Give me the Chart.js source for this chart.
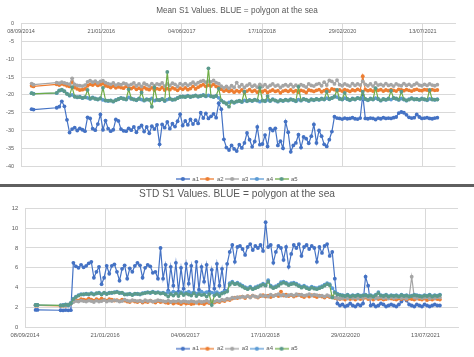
<!DOCTYPE html>
<html><head><meta charset="utf-8">
<script src="https://cdn.jsdelivr.net/npm/chart.js@4.4.1/dist/chart.umd.min.js"></script>
<style>
html,body{margin:0;padding:0;background:#fff;}
body{width:474px;height:357px;overflow:hidden;}
canvas{display:block;}
#sep{height:3px;background:#5f5f5f;}
</style></head><body>
<canvas id="c1" width="474" height="184"></canvas>
<div id="sep"></div>
<canvas id="c2" width="474" height="170"></canvas>
<script>
// acquisition dates, in days after 08/09/2014
const acqDays = [66,78,222,238,254,270,286,302,318,334,350,366,382,398,414,430,446,462,478,494,510,526,542,558,574,590,606,622,638,654,670,686,702,718,734,750,766,782,798,814,830,846,862,878,894,910,926,942,958,974,990,1006,1022,1038,1054,1070,1086,1102,1118,1134,1150,1166,1182,1198,1214,1230,1246,1262,1278,1294,1310,1326,1342,1358,1374,1390,1406,1422,1438,1454,1470,1486,1502,1518,1534,1550,1566,1582,1598,1614,1630,1646,1662,1678,1694,1710,1726,1742,1758,1774,1790,1806,1822,1838,1854,1870,1886,1902,1918,1934,1950,1966,1982,1998,2014,2030,2046,2062,2078,2094,2110,2126,2142,2158,2174,2190,2206,2222,2238,2254,2270,2286,2302,2318,2334,2350,2366,2382,2398,2414,2430,2446,2462,2478,2494,2510,2526,2542,2558,2574,2590];

const xTickDays = [0, 500, 1000, 1500, 2000, 2500];
const xTickLabels = ['08/09/2014','21/01/2016','04/06/2017','17/10/2018','29/02/2020','13/07/2021'];
const seriesNames = ['a1','a2','a3','a4','a5'];

const meanA1 = [-24.0,-24.1,
-23.6,-23.3,-21.8,-23.2,-27.0,-30.6,-29.6,-29.2,-30.0,-29.4,
-29.8,-30.2,-26.3,-26.6,-29.5,-29.9,-28.2,-25.5,-29.8,-27.2,
-29.5,-30.2,-29.8,-26.9,-27.3,-29.6,-30.1,-30.2,-29.4,-29.9,
-29.0,-30.5,-29.2,-28.6,-30.3,-29.0,-30.8,-28.8,-29.6,-28.4,
-33.9,-28.3,-29.2,-27.6,-29.5,-28.1,-28.9,-27.4,-25.4,-28.6,
-27.3,-28.4,-26.9,-28.2,-27.1,-28.0,-25.0,-26.5,-25.2,-26.6,
-26.0,-25.3,-26.4,-22.3,-24.0,-32.5,-34.8,-35.5,-34.2,-35.2,
-35.8,-34.0,-34.9,-33.5,-30.7,-32.6,-34.6,-33.1,-29.0,-34.0,
-33.8,-31.3,-34.5,-29.5,-30.0,-29.4,-34.2,-33.0,-35.0,-27.5,
-30.5,-36.0,-34.2,-33.5,-31.2,-34.8,-31.8,-32.3,-33.6,-31.6,
-28.3,-33.5,-30.0,-31.6,-33.9,-34.5,-32.6,-30.3,-26.1,-26.5,
-26.6,-26.8,-26.5,-26.7,-26.6,-26.4,-26.7,-26.8,-26.5,-20.0,
-26.6,-26.7,-26.5,-26.6,-26.9,-26.5,-26.7,-26.4,-26.6,-26.5,
-26.6,-26.4,-26.2,-25.1,-24.8,-25.0,-25.6,-26.3,-26.5,-26.4,
-25.5,-26.2,-26.6,-26.5,-26.4,-26.6,-26.7,-26.5,-26.4];

const meanA2 = [-17.4,-17.6,
-17.0,-17.2,-16.9,-17.1,-17.4,-17.6,-16.3,-17.9,-18.3,-18.6,
-18.5,-18.3,-17.4,-17.0,-17.2,-16.9,-17.3,-17.1,-16.8,-17.4,
-17.6,-17.9,-17.5,-18.0,-17.7,-17.9,-18.1,-17.6,-17.9,-18.2,
-17.8,-18.4,-18.1,-18.6,-17.9,-18.3,-18.5,-18.0,-18.6,-18.2,
-18.4,-17.9,-18.6,-18.2,-18.5,-18.0,-18.3,-18.7,-18.1,-18.4,
-18.0,-18.5,-18.2,-17.6,-18.3,-17.8,-17.4,-17.1,-17.6,-17.2,
-17.5,-17.0,-17.6,-17.8,-18.4,-18.9,-18.6,-19.0,-18.7,-19.2,
-18.8,-19.1,-18.6,-19.3,-18.9,-18.5,-19.0,-18.7,-19.2,-18.8,
-19.1,-18.7,-19.3,-18.9,-18.6,-19.0,-18.8,-19.4,-18.9,-18.7,
-19.0,-18.6,-19.1,-18.8,-19.2,-18.7,-18.9,-19.3,-18.6,-18.8,
-19.0,-18.7,-18.5,-19.1,-18.8,-18.4,-18.9,-18.3,-18.5,-18.8,
-18.6,-18.9,-18.5,-18.7,-19.0,-18.6,-18.8,-18.4,-18.7,-14.7,
-18.5,-18.8,-18.6,-18.9,-18.4,-18.7,-18.5,-18.9,-18.6,-18.8,
-18.5,-18.7,-18.9,-18.4,-18.6,-18.8,-18.5,-18.7,-18.9,-18.6,
-18.4,-18.7,-18.8,-18.5,-18.6,-18.9,-18.5,-18.7,-18.6];

const meanA3 = [-16.8,-17.1,
-16.5,-16.7,-16.4,-16.6,-16.8,-17.0,-15.3,-17.0,-17.3,-17.4,
-17.5,-17.2,-16.3,-16.0,-16.4,-16.1,-16.6,-16.2,-16.0,-16.5,
-16.8,-17.0,-16.6,-17.2,-16.9,-17.1,-16.7,-16.9,-17.3,-17.0,
-16.6,-17.4,-16.9,-17.6,-16.7,-17.1,-17.5,-16.8,-17.4,-16.9,
-17.1,-16.6,-17.5,-16.9,-17.3,-16.7,-17.0,-17.6,-16.8,-17.2,
-16.8,-17.3,-16.9,-16.4,-17.0,-16.5,-16.2,-16.0,-16.4,-16.1,
-16.3,-15.9,-16.5,-16.8,-17.5,-18.0,-17.6,-18.1,-17.4,-17.9,
-16.5,-17.7,-17.1,-17.9,-17.3,-16.9,-17.6,-17.2,-17.8,-17.0,
-17.6,-17.1,-17.8,-17.3,-16.9,-17.5,-17.2,-17.9,-17.4,-17.1,
-17.5,-17.0,-17.7,-17.2,-17.6,-17.1,-17.4,-17.8,-16.9,-17.3,
-17.5,-17.0,-16.8,-17.4,-16.4,-17.2,-15.9,-16.2,-16.9,-15.8,
-17.1,-17.4,-16.9,-17.2,-17.5,-16.8,-17.3,-16.9,-17.2,-16.2,
-17.0,-17.4,-16.9,-17.5,-16.6,-17.2,-17.0,-17.4,-16.8,-17.3,
-17.1,-17.5,-16.9,-17.2,-17.4,-16.8,-17.3,-17.0,-17.5,-17.1,
-16.7,-17.2,-17.4,-17.0,-17.3,-16.9,-17.2,-17.4,-17.1];

const meanA4 = [-19.5,-19.6,
-19.5,-18.7,-18.6,-18.9,-19.6,-20.2,-20.0,-20.4,-20.7,-20.5,
-20.9,-20.6,-20.8,-21.1,-20.7,-21.0,-21.3,-20.9,-21.4,-21.6,
-21.7,-21.5,-21.9,-21.4,-21.2,-20.8,-21.0,-21.3,-20.7,-21.1,
-21.2,-21.5,-21.0,-21.3,-21.6,-21.2,-21.4,-21.0,-21.6,-21.3,
-21.5,-21.1,-21.7,-21.3,-21.0,-21.4,-21.2,-20.8,-20.6,-20.4,
-20.5,-20.2,-20.6,-20.3,-20.1,-20.5,-20.2,-20.0,-20.4,-20.1,
-20.3,-20.6,-20.2,-20.8,-21.6,-22.0,-22.5,-22.1,-21.8,-22.2,
-21.9,-21.6,-22.0,-21.5,-21.8,-21.4,-21.7,-21.3,-21.6,-21.9,
-21.5,-21.8,-21.4,-21.7,-21.2,-21.6,-21.9,-21.4,-21.7,-21.3,
-21.6,-21.2,-21.5,-21.8,-21.3,-21.6,-21.1,-21.4,-21.7,-21.2,
-21.5,-21.1,-21.4,-21.0,-21.3,-20.9,-21.2,-20.8,-20.4,-20.6,
-21.0,-21.3,-20.9,-21.2,-21.5,-21.0,-21.3,-20.8,-21.1,-20.9,
-21.2,-21.5,-21.0,-21.3,-20.9,-21.2,-21.6,-21.1,-21.4,-21.0,
-21.3,-20.8,-21.1,-21.4,-21.0,-21.3,-21.6,-21.2,-20.9,-21.3,
-21.1,-21.4,-21.0,-21.3,-21.5,-21.1,-21.2,-21.4,-21.2];

const meanA5 = [-19.5,-19.7,
-19.4,-18.8,-18.5,-19.0,-19.7,-20.1,-17.8,-20.5,-20.6,-20.6,
-20.8,-20.7,-18.6,-21.0,-20.8,-21.1,-21.2,-21.0,-18.0,-21.5,
-21.6,-21.6,-21.8,-21.5,-21.1,-20.9,-21.1,-21.2,-18.4,-21.0,
-21.3,-21.4,-21.1,-19.3,-21.5,-21.3,-21.3,-23.3,-17.9,-21.4,
-21.4,-21.2,-21.6,-13.5,-21.1,-21.3,-21.3,-20.9,-20.5,-20.5,
-20.6,-20.3,-20.5,-20.4,-20.2,-20.4,-20.3,-20.1,-20.3,-12.5,
-20.4,-20.5,-20.3,-18.2,-21.5,-22.1,-22.4,-23.3,-21.9,-22.1,
-21.8,-21.7,-21.9,-19.1,-21.7,-21.5,-21.6,-21.4,-21.5,-18.0,
-21.6,-21.7,-20.3,-21.6,-21.3,-21.5,-21.8,-21.5,-21.6,-21.4,
-21.5,-21.3,-21.4,-21.7,-17.7,-21.5,-21.2,-21.3,-21.6,-21.3,
-21.4,-21.2,-21.3,-21.1,-21.2,-19.1,-21.1,-20.9,-20.5,-18.6,
-21.1,-21.2,-19.4,-21.1,-21.4,-21.1,-21.2,-20.9,-21.0,-19.1,
-21.1,-21.4,-21.1,-21.2,-18.1,-21.1,-21.5,-21.2,-21.3,-21.1,
-18.8,-20.9,-21.0,-21.3,-19.1,-21.2,-21.5,-21.3,-21.0,-21.2,
-21.2,-21.3,-21.1,-21.2,-21.4,-18.6,-21.3,-21.3,-21.3];

const stdA1 = [1.75,1.75,
1.72,1.70,1.74,1.71,1.73,6.50,6.15,6.00,6.30,6.05,
6.20,6.45,6.60,5.00,5.60,6.10,4.35,5.00,6.20,5.40,
6.20,6.35,5.60,4.70,5.90,6.25,4.90,5.95,5.60,6.20,
6.50,6.25,5.00,6.00,6.30,6.15,5.50,5.60,4.90,8.00,
4.90,6.30,3.70,6.10,4.20,6.50,3.60,6.00,3.90,6.40,
4.40,6.20,3.50,6.60,3.80,6.10,4.60,6.30,3.60,5.80,
3.90,6.40,4.20,5.90,3.70,6.40,7.60,8.30,6.60,8.10,
8.20,7.90,7.30,8.10,8.40,7.80,8.20,8.00,8.30,7.70,
10.60,8.10,8.30,6.50,7.60,8.20,8.00,6.80,8.10,6.10,
7.40,8.30,8.00,8.40,7.20,8.10,8.30,7.90,8.20,8.00,
6.60,8.10,7.50,8.20,8.40,7.20,7.60,4.90,2.40,2.20,
2.30,2.10,2.20,2.40,2.20,2.10,2.30,2.20,2.40,5.10,
4.20,2.20,2.30,2.10,2.20,2.40,2.30,2.10,2.20,2.30,
2.20,2.10,2.30,2.60,2.90,2.70,2.30,2.20,2.10,2.30,
2.20,2.10,2.30,2.20,2.10,2.20,2.30,2.20,2.20];

const stdA2 = [2.20,2.20,
2.15,2.20,2.18,2.22,2.40,2.60,2.75,2.70,2.85,2.80,
2.75,2.90,2.80,2.70,2.85,2.75,2.90,2.80,2.70,2.85,
2.80,2.70,2.75,2.65,2.80,2.70,2.60,2.55,2.70,2.60,
2.55,2.65,2.50,2.60,2.55,2.70,2.60,2.50,2.65,2.55,
2.60,2.50,2.45,2.55,2.40,2.50,2.45,2.35,2.50,2.40,
2.45,2.35,2.40,2.50,2.40,2.45,2.35,2.50,2.45,2.55,
2.50,2.60,2.55,2.70,2.65,2.80,2.75,2.90,3.00,2.95,
3.05,3.10,2.95,3.15,3.05,3.20,3.10,3.00,3.15,3.25,
3.10,3.20,3.05,3.15,3.25,3.15,3.60,3.20,3.30,3.15,
3.25,3.10,3.20,3.30,3.15,3.05,3.20,3.10,3.25,3.15,
3.05,3.20,3.10,3.00,3.15,3.05,3.10,2.95,2.90,2.85,
2.90,2.80,2.95,2.85,2.90,2.80,2.95,2.85,2.90,3.00,
2.85,2.90,2.80,2.95,2.85,2.90,2.80,2.85,2.95,2.90,
2.85,2.80,2.90,2.85,2.95,2.80,2.90,2.85,2.80,2.90,
2.85,2.80,2.90,2.75,2.85,2.80,2.90,2.85,2.80];

const stdA3 = [2.22,2.22,
2.20,2.25,2.20,2.30,2.45,2.55,2.65,2.60,2.70,2.65,
2.60,2.70,2.65,2.55,2.70,2.60,2.65,2.75,2.60,2.70,
2.65,2.75,2.70,2.60,2.65,2.80,2.70,2.65,2.75,2.70,
2.65,2.70,2.60,2.75,2.65,2.70,2.60,2.65,2.75,2.70,
2.65,2.60,2.70,2.55,2.65,2.60,2.70,2.55,2.65,2.60,
2.55,2.65,2.60,2.50,2.65,2.55,2.60,2.70,2.55,2.65,
2.60,2.70,2.65,2.80,2.75,2.90,2.85,3.00,2.95,3.05,
3.00,3.10,3.05,3.15,3.00,3.20,3.10,3.05,3.25,3.15,
3.20,3.10,3.30,3.15,3.25,3.35,3.20,3.30,3.15,3.25,
3.30,3.20,3.35,3.25,3.30,3.20,3.25,3.35,3.20,3.30,
3.25,3.15,3.20,3.10,3.25,3.15,3.05,3.00,2.95,2.90,
2.95,3.00,2.90,3.05,2.95,3.00,2.90,3.05,2.95,3.10,
3.00,2.95,3.05,2.90,3.00,3.05,2.95,3.00,2.90,3.05,
2.95,3.00,3.05,2.95,3.00,2.90,3.05,5.10,3.00,2.95,
3.05,2.95,3.00,3.05,2.90,3.00,2.95,3.05,3.00];

const stdA4 = [2.25,2.25,
2.20,2.25,2.30,2.20,2.45,2.90,3.10,3.25,3.35,3.30,
3.40,3.30,3.45,3.35,3.40,3.50,3.35,3.45,3.40,3.50,
3.45,3.55,3.60,3.50,3.45,3.35,3.30,3.40,3.30,3.35,
3.40,3.30,3.45,3.50,3.55,3.45,3.60,3.50,3.55,3.45,
3.50,3.40,3.55,3.45,3.60,3.50,3.40,3.55,3.45,3.50,
3.60,3.45,3.55,3.40,3.50,3.60,3.45,3.55,3.40,3.50,
3.45,3.55,3.40,3.50,3.60,3.70,4.45,4.60,4.40,4.50,
4.35,4.20,4.05,3.95,4.10,3.90,4.05,4.15,4.25,4.40,
4.30,4.75,4.20,4.05,4.15,4.30,4.55,4.60,4.50,4.35,
4.45,4.50,4.40,4.25,4.10,4.20,4.05,3.95,4.10,4.00,
3.95,4.05,4.15,4.30,4.45,4.35,3.95,3.60,3.40,3.30,
3.25,3.20,3.30,3.15,3.25,3.20,3.30,3.20,3.25,3.30,
3.20,3.25,3.15,3.30,3.55,3.25,3.20,3.30,3.15,3.25,
3.20,3.25,3.15,3.30,3.20,3.25,3.15,3.20,3.30,3.25,
3.20,3.15,3.25,3.20,3.30,3.15,3.25,3.20,3.30];

const stdA5 = [2.25,2.25,
2.22,2.20,2.28,2.25,2.40,2.85,3.05,3.20,3.30,3.35,
3.35,3.35,3.40,3.30,3.45,3.45,3.30,3.50,3.35,3.45,
3.50,3.50,3.55,3.45,3.50,3.30,3.35,3.35,3.25,3.40,
3.35,3.35,3.40,3.45,3.50,3.50,3.55,3.45,3.50,3.40,
3.45,3.30,3.10,3.35,3.20,3.40,3.15,3.45,3.25,3.40,
3.30,3.20,3.45,3.15,3.35,3.25,3.30,3.10,3.35,2.25,
3.20,3.35,3.15,3.40,3.50,3.60,4.30,4.50,4.35,4.40,
4.25,4.10,3.95,3.85,4.00,3.85,3.95,4.05,4.20,4.30,
4.20,4.60,4.10,3.95,4.05,4.20,4.40,4.50,4.40,4.25,
4.35,4.40,4.30,4.15,4.00,4.10,3.95,3.85,4.00,3.90,
3.85,3.95,4.05,4.20,4.35,4.25,3.00,3.50,3.30,3.25,
3.20,3.15,3.25,3.10,3.20,3.15,3.25,3.15,3.20,3.25,
3.15,3.20,3.10,3.25,3.45,3.20,3.15,3.25,3.10,3.20,
3.15,3.20,3.10,3.25,3.15,3.20,3.10,3.15,3.25,3.20,
3.15,3.10,3.20,3.15,3.25,3.10,3.20,3.15,3.25];

// ---- styling ----
const FONT = "'Liberation Sans', Arial, sans-serif";
const GRID = '#D9D9D9';
const TXT = '#595959';
const lineColors = ['#4472C4', '#ED7D31', '#A5A5A5', '#5B9BD5', '#70AD47'];
const markerColors = ['#4472C4', '#ED7D31', '#A5A5A5', '#5B9BD5', '#5B9A8B'];

function tickLabel(v) {
  const k = xTickDays.indexOf(v);
  return k >= 0 ? xTickLabels[k] : '';
}

function legendSymbol(i) {
  const c = document.createElement('canvas');
  c.width = 14; c.height = 6;
  const g = c.getContext('2d');
  g.strokeStyle = lineColors[i]; g.lineWidth = 1.3;
  g.beginPath(); g.moveTo(0, 3); g.lineTo(14, 3); g.stroke();
  g.fillStyle = markerColors[i];
  g.beginPath(); g.arc(7, 3, 2.1, 0, Math.PI * 2); g.fill();
  return c;
}

const legendShift = {
  id: 'legendShift',
  afterLayout(chart, args, opts) {
    const lg = chart.legend;
    if (lg && opts && opts.dy) { lg.top += opts.dy; lg.bottom += opts.dy; }
  }
};

function buildChart(canvasId, series, o) {
  const datasets = series.map((vals, i) => ({
    label: seriesNames[i],
    data: acqDays.map((d, j) => ({ x: d, y: vals[j] })),
    borderColor: lineColors[i],
    backgroundColor: markerColors[i],
    pointBackgroundColor: markerColors[i],
    pointBorderColor: markerColors[i],
    pointBorderWidth: 0,
    pointRadius: 1.9,
    pointHoverRadius: 1.9,
    borderWidth: 1.2,
    tension: 0,
    order: 5 - i
  }));
  return new Chart(document.getElementById(canvasId), {
    type: 'line',
    data: { datasets },
    options: {
      responsive: false,
      animation: false,
      devicePixelRatio: 1,
      events: [],
      layout: { padding: { left: 0, right: 0, top: 0, bottom: 0 } },
      scales: {
        x: {
          type: 'linear', min: 0, max: 2703, position: o.xPos,
          afterFit: s => { s.height = o.xHeight; },
          afterBuildTicks: s => { s.ticks = xTickDays.map(v => ({ value: v })); },
          grid: { color: GRID, lineWidth: 1, drawTicks: false },
          border: { display: true, color: GRID, width: 1 },
          ticks: {
            autoSkip: false,
            maxRotation: 0, minRotation: 0, padding: o.xPad,
            color: TXT, font: { family: FONT, size: o.tickSize },
            callback: v => tickLabel(v)
          }
        },
        y: {
          type: 'linear', min: o.yMin, max: o.yMax,
          afterFit: s => { s.width = o.yWidth; },
          grid: { color: GRID, lineWidth: 1, drawTicks: false },
          border: { display: false },
          ticks: { stepSize: o.yStep, padding: o.yPad, color: TXT, font: { family: FONT, size: o.tickSize } }
        },
        yRightSpace: {
          type: 'linear', position: 'right', display: true,
          afterFit: s => { s.width = o.rightSpace; },
          grid: { display: false, drawTicks: false },
          border: { display: false },
          ticks: { display: false }
        }
      },
      plugins: {
        title: {
          display: true, text: o.title, color: TXT,
          font: { family: FONT, size: o.titleSize, weight: 'normal' },
          padding: o.titlePad
        },
        legend: {
          display: true, position: 'bottom',
          labels: {
            usePointStyle: true, pointStyleWidth: 13, padding: 2,
            color: TXT, font: { family: FONT, size: 6 },
            generateLabels: () => seriesNames.map((n, i) => ({
              text: n, pointStyle: legendSymbol(i), datasetIndex: i,
              fontColor: TXT, hidden: false, lineWidth: 0
            }))
          }
        },
        tooltip: { enabled: false },
        legendShift: { dy: o.legendDy }
      }
    },
    plugins: [legendShift]
  });
}

buildChart('c1', [meanA1, meanA2, meanA3, meanA4, meanA5], {
  title: 'Mean S1 Values. BLUE = polygon at the sea',
  titleSize: 8.2, titlePad: { top: 5.6, bottom: 8.5 },
  xPos: { y: 0 }, xHeight: 6, xPad: 4.7,
  yMin: -40, yMax: 0, yStep: 5, yWidth: 21, yPad: 7,
  tickSize: 5.5, rightSpace: 18.5, legendDy: 8
});

buildChart('c2', [stdA1, stdA2, stdA3, stdA4, stdA5], {
  title: 'STD S1 Values. BLUE = polygon at the sea',
  titleSize: 10.2, titlePad: { top: 0.6, bottom: 8.5 },
  xPos: 'bottom', xHeight: 11.7, xPad: 4.2,
  yMin: 0, yMax: 12, yStep: 2, yWidth: 25, yPad: 6.7,
  tickSize: 5.8, rightSpace: 16, legendDy: 4.7
});
</script>
</body></html>
